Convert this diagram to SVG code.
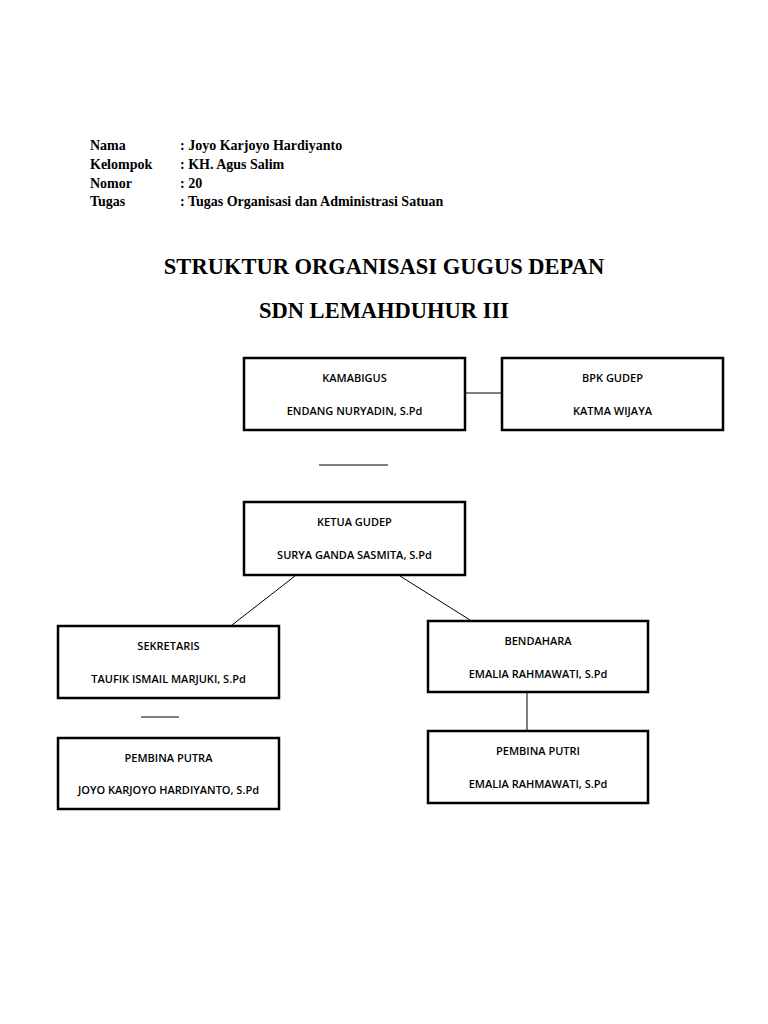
<svg xmlns="http://www.w3.org/2000/svg" width="768" height="1024" viewBox="0 0 768 1024">
<style>
.h{font-family:"Liberation Serif",serif;font-size:14px;font-weight:bold;fill:#000}
.t{font-family:"Liberation Serif",serif;font-size:22.5px;font-weight:bold;fill:#000}
.b{fill:#fff;stroke:#000;stroke-width:2.5}
.n{font-family:"Open Sans","DejaVu Sans",sans-serif;font-size:11px;font-weight:600;fill:#000;text-anchor:middle}
.c{stroke:#000;stroke-width:1;fill:none}
</style>
<rect width="768" height="1024" fill="#fff"/>
<g id="header">
<text class="h" x="90" y="150">Nama</text><text class="h" x="180" y="150">: Joyo Karjoyo Hardiyanto</text>
<text class="h" x="90" y="169">Kelompok</text><text class="h" x="180" y="169">: KH. Agus Salim</text>
<text class="h" x="90" y="188">Nomor</text><text class="h" x="180" y="188">: 20</text>
<text class="h" x="90" y="206">Tugas</text><text class="h" x="180" y="206">: Tugas Organisasi dan Administrasi Satuan</text>
<text class="t" x="384" y="274" text-anchor="middle">STRUKTUR ORGANISASI GUGUS DEPAN</text>
<text class="t" x="384" y="318" text-anchor="middle">SDN LEMAHDUHUR III</text>
</g>
<g id="connectors">
<line class="c" x1="465" y1="393" x2="502" y2="393"/>
<line class="c" x1="319" y1="465" x2="388" y2="465"/>
<line class="c" x1="295" y1="576" x2="232" y2="625"/>
<line class="c" x1="400" y1="576" x2="470" y2="620"/>
<line class="c" x1="527" y1="693" x2="527" y2="731"/>
<line class="c" x1="141" y1="717" x2="179" y2="717"/>
</g>
<g id="kamabigus"><rect class="b" x="244" y="358" width="221" height="72"/><text class="n" x="354.5" y="382">KAMABIGUS</text><text class="n" x="354.5" y="415">ENDANG NURYADIN, S.Pd</text></g>
<g id="bpk"><rect class="b" x="502" y="358" width="221" height="72"/><text class="n" x="612.5" y="382">BPK GUDEP</text><text class="n" x="612.5" y="415">KATMA WIJAYA</text></g>
<g id="ketua"><rect class="b" x="244" y="502" width="221" height="73"/><text class="n" x="354.5" y="526">KETUA GUDEP</text><text class="n" x="354.5" y="559">SURYA GANDA SASMITA, S.Pd</text></g>
<g id="sekretaris"><rect class="b" x="58" y="626" width="221" height="72"/><text class="n" x="168.5" y="650">SEKRETARIS</text><text class="n" x="168.5" y="683">TAUFIK ISMAIL MARJUKI, S.Pd</text></g>
<g id="bendahara"><rect class="b" x="428" y="621" width="220" height="71"/><text class="n" x="538" y="645">BENDAHARA</text><text class="n" x="538" y="678">EMALIA RAHMAWATI, S.Pd</text></g>
<g id="putra"><rect class="b" x="58" y="738" width="221" height="71"/><text class="n" x="168.5" y="762">PEMBINA PUTRA</text><text class="n" x="168.5" y="794">JOYO KARJOYO HARDIYANTO, S.Pd</text></g>
<g id="putri"><rect class="b" x="428" y="731" width="220" height="72"/><text class="n" x="538" y="755">PEMBINA PUTRI</text><text class="n" x="538" y="788">EMALIA RAHMAWATI, S.Pd</text></g>
</svg>
